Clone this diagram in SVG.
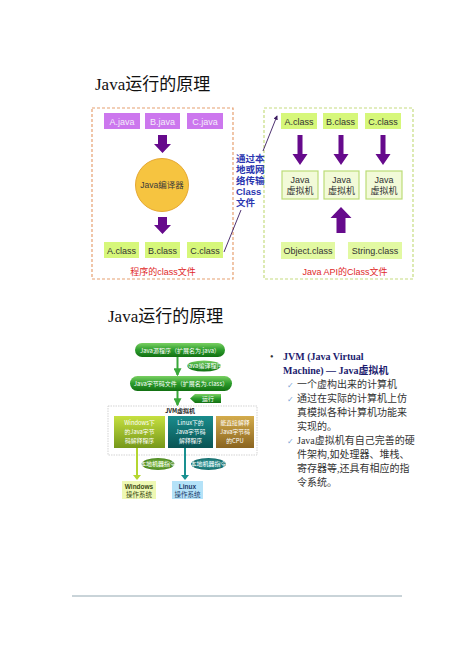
<svg xmlns="http://www.w3.org/2000/svg" width="474" height="670" viewBox="0 0 474 670">
<defs>
<style>
.title{font-family:"Liberation Serif","Noto Sans CJK SC",serif;font-size:17px;fill:#111}
.sans{font-family:"Liberation Sans","Noto Sans CJK SC",sans-serif}
.pbox{fill:#cc77ee}
.ptext{font-size:9px;fill:#f4eefa;text-anchor:middle}
.gbox{fill:#d6f77a}
.gtext{font-size:9px;fill:#333;text-anchor:middle}
.jvm{fill:#f2fad8;stroke:#bcdc78;stroke-width:1.2}
.red{font-size:9px;fill:#e02828;text-anchor:middle}
.blue{font-size:9.5px;fill:#2a36b0;font-weight:bold}
.parrow{fill:#660a8c}
.dashL{fill:none;stroke:#e6a070;stroke-width:1.2;stroke-dasharray:3 2}
.dashR{fill:none;stroke:#c6dc80;stroke-width:1.2;stroke-dasharray:3 2}
.tiny{font-family:"Noto Sans CJK SC",sans-serif;font-size:6px;fill:#fff;text-anchor:middle}
.btext{font-family:"Noto Sans CJK SC",sans-serif;font-size:5.8px;fill:#fff;text-anchor:middle}
.rt{font-family:"Liberation Serif","Noto Sans CJK SC",serif;font-size:10px;fill:#333}
.rh{font-family:"Liberation Serif","Noto Sans CJK SC",serif;font-size:10px;font-weight:bold;fill:#1c1c6e}
.chk{font-family:"DejaVu Sans",sans-serif;font-size:8px;fill:#7aa6d6}
</style>
<linearGradient id="gPill" x1="0" y1="0" x2="0" y2="1">
<stop offset="0" stop-color="#7ad062"/><stop offset="0.5" stop-color="#2c9c2c"/><stop offset="1" stop-color="#127012"/>
</linearGradient>
<linearGradient id="gWin" x1="0" y1="0" x2="0" y2="1">
<stop offset="0" stop-color="#c6e040"/><stop offset="1" stop-color="#76981a"/>
</linearGradient>
<linearGradient id="gLin" x1="0" y1="0" x2="0" y2="1">
<stop offset="0" stop-color="#1a8c8c"/><stop offset="1" stop-color="#0a5454"/>
</linearGradient>
<linearGradient id="gCpu" x1="0" y1="0" x2="0" y2="1">
<stop offset="0" stop-color="#d4ac4c"/><stop offset="1" stop-color="#8a6420"/>
</linearGradient>
<radialGradient id="gOvG" cx="0.5" cy="0.5" r="0.6">
<stop offset="0" stop-color="#8ec850"/><stop offset="1" stop-color="#3c7a14"/>
</radialGradient>
<radialGradient id="gOvT" cx="0.5" cy="0.5" r="0.6">
<stop offset="0" stop-color="#40a8a8"/><stop offset="1" stop-color="#0a6060"/>
</radialGradient>
<marker id="mArr" viewBox="0 0 6 6" refX="5" refY="3" markerWidth="5" markerHeight="5" orient="auto">
<path d="M0,0 L6,3 L0,6 z" fill="#3a1a60"/>
</marker>
<marker id="mG" viewBox="0 0 6 6" refX="5" refY="3" markerWidth="4" markerHeight="4" orient="auto">
<path d="M0,0 L6,3 L0,6 z" fill="#3aa83a"/>
</marker>
</defs>
<rect width="474" height="670" fill="#fff"/>

<text class="title" x="95" y="90">Java运行的原理</text>
<text class="title" x="108" y="322">Java运行的原理</text>

<!-- top-left panel -->
<g id="panel-program">
<rect class="dashL" x="92" y="108" width="141" height="171"/>
<text class="red sans" x="163" y="275">程序的class文件</text>
</g>
<g id="A-java"><rect class="pbox" x="104" y="113" width="36" height="16"/><text class="ptext sans" x="122" y="124.5">A.java</text></g>
<g id="B-java"><rect class="pbox" x="145" y="113" width="35" height="16"/><text class="ptext sans" x="162.5" y="124.5">B.java</text></g>
<g id="C-java"><rect class="pbox" x="187" y="113" width="36" height="16"/><text class="ptext sans" x="205" y="124.5">C.java</text></g>
<g id="compiler">
<circle cx="162" cy="185" r="26.5" fill="#f6c440" stroke="#e6a832" stroke-width="1"/>
<text class="sans" x="162" y="188" font-size="8.5" fill="#3a3a3a" text-anchor="middle">Java编译器</text>
</g>
<g id="A-class-l"><rect class="gbox" x="104" y="242" width="35" height="16"/><text class="gtext sans" x="121.5" y="253.5">A.class</text></g>
<g id="B-class-l"><rect class="gbox" x="145" y="242" width="35" height="16"/><text class="gtext sans" x="162.5" y="253.5">B.class</text></g>
<g id="C-class-l"><rect class="gbox" x="187" y="242" width="36" height="16"/><text class="gtext sans" x="205" y="253.5">C.class</text></g>

<!-- top-right panel -->
<g id="panel-api">
<rect class="dashR" x="264" y="108" width="149" height="171"/>
<text class="red sans" x="345" y="275">Java API的Class文件</text>
</g>
<g id="A-class-r"><rect class="gbox" x="281" y="113" width="36" height="16"/><text class="gtext sans" x="299" y="124.5">A.class</text></g>
<g id="B-class-r"><rect class="gbox" x="323" y="113" width="35" height="16"/><text class="gtext sans" x="340.5" y="124.5">B.class</text></g>
<g id="C-class-r"><rect class="gbox" x="365" y="113" width="36" height="16"/><text class="gtext sans" x="383" y="124.5">C.class</text></g>
<g id="jvm1"><rect class="jvm" x="282" y="171" width="36" height="28"/><text class="gtext sans" x="300" y="183">Java</text><text class="gtext sans" x="300" y="194">虚拟机</text></g>
<g id="jvm2"><rect class="jvm" x="324" y="171" width="35" height="28"/><text class="gtext sans" x="341.5" y="183">Java</text><text class="gtext sans" x="341.5" y="194">虚拟机</text></g>
<g id="jvm3"><rect class="jvm" x="366" y="171" width="36" height="28"/><text class="gtext sans" x="384" y="183">Java</text><text class="gtext sans" x="384" y="194">虚拟机</text></g>
<g id="object-class"><rect class="gbox" x="281" y="242" width="54" height="17" fill-opacity="0.7"/><text class="gtext sans" x="308" y="254">Object.class</text></g>
<g id="string-class"><rect class="gbox" x="348" y="242" width="54" height="17" fill-opacity="0.7"/><text class="gtext sans" x="375" y="254">String.class</text></g>

<g id="transfer-label">
<text class="blue sans" x="236" y="162">通过本</text>
<text class="blue sans" x="236" y="173">地或网</text>
<text class="blue sans" x="236" y="184">络传输</text>
<text class="blue sans" x="236" y="195">Class</text>
<text class="blue sans" x="236" y="206">文件</text>
</g>

<!-- bottom-left flow -->
<g id="src-pill"><rect x="135" y="343" width="90" height="14" rx="7" fill="url(#gPill)"/><text class="tiny" x="180" y="352.5">Java源程序（扩展名为.java）</text></g>
<g id="compile-oval"><ellipse cx="204" cy="366" rx="17" ry="5.5" fill="url(#gPill)"/><text class="tiny" x="204" y="368" font-size="5">Java编译程序</text></g>
<g id="class-pill"><rect x="130" y="376" width="102" height="15" rx="7.5" fill="url(#gPill)"/><text class="tiny" x="181" y="386">Java字节码文件（扩展名为.class）</text></g>
<g id="run-tag"><polygon points="190,398.5 195,394 221,394 221,403 195,403" fill="url(#gPill)"/><text class="tiny" x="208" y="401" font-size="5.5">运行</text></g>
<g id="jvm-box">
<rect x="108" y="406" width="149" height="49" fill="#fff" stroke="#c8c8c8" stroke-width="0.8" stroke-dasharray="1.5 1"/>
<text x="180" y="413" font-family="Noto Sans CJK SC,sans-serif" font-size="6" font-weight="bold" fill="#222" text-anchor="middle">JVM虚拟机</text>
</g>
<g id="win-interp"><rect x="114" y="416" width="51" height="32" fill="url(#gWin)"/>
<text class="btext" x="139.5" y="425">Windows下</text><text class="btext" x="139.5" y="434">的Java字节</text><text class="btext" x="139.5" y="443">码解释程序</text></g>
<g id="linux-interp"><rect x="168" y="416" width="45" height="32" fill="url(#gLin)"/>
<text class="btext" x="190.5" y="425">Linux下的</text><text class="btext" x="190.5" y="434">Java字节码</text><text class="btext" x="190.5" y="443">解释程序</text></g>
<g id="cpu"><rect x="216" y="416" width="38" height="32" fill="url(#gCpu)"/>
<text class="btext" x="235" y="425">能直接解释</text><text class="btext" x="235" y="434">Java字节码</text><text class="btext" x="235" y="443">的CPU</text></g>
<g id="native-win"><ellipse cx="158" cy="464" rx="16.5" ry="6" fill="url(#gOvG)"/><text class="tiny" x="158" y="466" font-size="5">本地机器指令</text></g>
<g id="native-linux"><ellipse cx="208.5" cy="464" rx="17.5" ry="6" fill="url(#gOvT)"/><text class="tiny" x="208.5" y="466" font-size="5">本地机器指令</text></g>
<g id="win-os"><rect x="122" y="481" width="34" height="18" fill="#eef8b4"/>
<text x="139" y="489" font-family="Liberation Sans,Noto Sans CJK SC,sans-serif" font-size="6.5" font-weight="bold" fill="#3a4a10" text-anchor="middle">Windows</text>
<text x="139" y="497" font-family="Noto Sans CJK SC,sans-serif" font-size="6.5" fill="#3a4a10" text-anchor="middle">操作系统</text></g>
<g id="linux-os"><rect x="172" y="481" width="31" height="18" fill="#b4e2f8"/>
<text x="187.5" y="489" font-family="Liberation Sans,Noto Sans CJK SC,sans-serif" font-size="6.5" font-weight="bold" fill="#1a3a6a" text-anchor="middle">Linux</text>
<text x="187.5" y="497" font-family="Noto Sans CJK SC,sans-serif" font-size="6.5" fill="#1a3a6a" text-anchor="middle">操作系统</text></g>

<!-- connectors -->
<g id="connectors">
<path class="parrow" d="M158,135 h9 v9 h4 l-8.5,9 l-8.5,-9 h4 z"/>
<path class="parrow" d="M158,217 h9 v8 h4 l-8.5,9 l-8.5,-9 h4 z"/>
<path class="parrow" d="M297.5,135 h5 v19 h5 l-7.5,11 l-7.5,-11 h5 z"/>
<path class="parrow" d="M338.5,135 h5 v19 h5 l-7.5,11 l-7.5,-11 h5 z"/>
<path class="parrow" d="M380.5,135 h5 v19 h5 l-7.5,11 l-7.5,-11 h5 z"/>
<path class="parrow" d="M336.5,233 h9 v-15 h6 l-10.5,-11 l-10.5,11 h6 z"/>
<line x1="224" y1="252" x2="241" y2="210" stroke="#3a1a60" stroke-width="0.9"/>
<line x1="263" y1="151" x2="277" y2="116" stroke="#3a1a60" stroke-width="0.9" marker-end="url(#mArr)"/>
<line x1="177.5" y1="357" x2="177.5" y2="375" stroke="#3aa83a" stroke-width="2" marker-end="url(#mG)"/>
<line x1="177.5" y1="391" x2="177.5" y2="405" stroke="#3aa83a" stroke-width="2" marker-end="url(#mG)"/>
<line x1="137" y1="448" x2="137" y2="476" stroke="#b4d630" stroke-width="2"/>
<path d="M133,475 h8 l-4,5 z" fill="#b4d630"/>
<line x1="185" y1="448" x2="185" y2="476" stroke="#1a9090" stroke-width="2"/>
<path d="M181,475 h8 l-4,5 z" fill="#1a9090"/>
</g>

<!-- right text -->
<g id="jvm-notes">
<text class="rt" x="270" y="360" font-size="9">•</text>
<text class="rh" x="283" y="360">JVM (Java Virtual</text>
<text class="rh" x="283" y="374">Machine) — Java虚拟机</text>
<text class="chk" x="287" y="388">✓</text><text class="rt" x="297" y="388">一个虚构出来的计算机</text>
<text class="chk" x="287" y="402">✓</text><text class="rt" x="297" y="402">通过在实际的计算机上仿</text>
<text class="rt" x="297" y="416">真模拟各种计算机功能来</text>
<text class="rt" x="297" y="430">实现的。</text>
<text class="chk" x="287" y="444">✓</text><text class="rt" x="297" y="444">Java虚拟机有自己完善的硬</text>
<text class="rt" x="297" y="458">件架构,如处理器、堆栈、</text>
<text class="rt" x="297" y="472">寄存器等,还具有相应的指</text>
<text class="rt" x="297" y="486">令系统。</text>
</g>

<line x1="72" y1="596" x2="402" y2="596" stroke="#93a8b2" stroke-width="1"/>
</svg>
